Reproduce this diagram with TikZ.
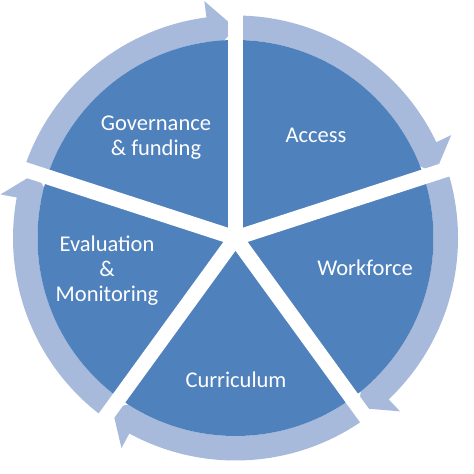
\documentclass[tikz,border=0pt]{standalone}
\usepackage{fontspec}
\setmainfont{Carlito}
\definecolor{pieblue}{HTML}{4F81BD}
\definecolor{ringblue}{HTML}{A7BADB}
\tikzset{
  ringfill/.style={fill=ringblue, draw=none},
  piefill/.style={fill=pieblue, draw=none},
  gapline/.style={draw=white, line width=15pt, line cap=butt},
  label/.style={text=white, font=\fontsize{22.5}{25}\selectfont, align=center, inner sep=0pt, anchor=base}
}
\newcommand\cyclearrow[2]{%
  \pgfmathsetmacro\hb{#2+7.5}%
  \fill[ringfill] (#1:222.5pt) arc[start angle=#1, end angle=\hb, radius=222.5pt]
    -- (\hb:239pt) -- (#2:210pt) -- (\hb:185pt) -- (\hb:198pt)
    arc[start angle=\hb, end angle=#1, radius=198pt] -- cycle;}
\begin{document}
\begin{tikzpicture}[x=1pt,y=1pt]
  \useasboundingbox (0,0) rectangle (474,474);
  \fill[white] (0,0) rectangle (474,474);
  \coordinate (C) at (235.5,236);
  \begin{scope}[shift={(C)}]
    \cyclearrow{162}{90}
    \cyclearrow{90}{18}
    \cyclearrow{18}{-54}
    \cyclearrow{-54}{-126}
    \cyclearrow{-126}{-198}
    \fill[piefill] (0,0) circle[radius=198pt];
    \coordinate (g1) at (90:250pt);
    \coordinate (g2) at (18:250pt);
    \coordinate (g3) at (-54:250pt);
    \coordinate (g4) at (-126:250pt);
    \coordinate (g5) at (162:250pt);
  \end{scope}
  \draw[gapline] (C) -- (g1);
  \draw[gapline] (C) -- (g2);
  \draw[gapline] (C) -- (g3);
  \draw[gapline] (C) -- (g4);
  \draw[gapline] (C) -- (g5);
  \node[label] (gov) at (156,318.3) {Governance\\\& funding};
  \node[label] (acc) at (316,331.3) {Access};
  \node[label] (wrk) at (365,198) {Workforce};
  \node[label] (cur) at (236,86.3) {Curriculum};
  \node[label] (eva) at (107,172.3) {Evaluation\\\&\\Monitoring};
\end{tikzpicture}
\end{document}
